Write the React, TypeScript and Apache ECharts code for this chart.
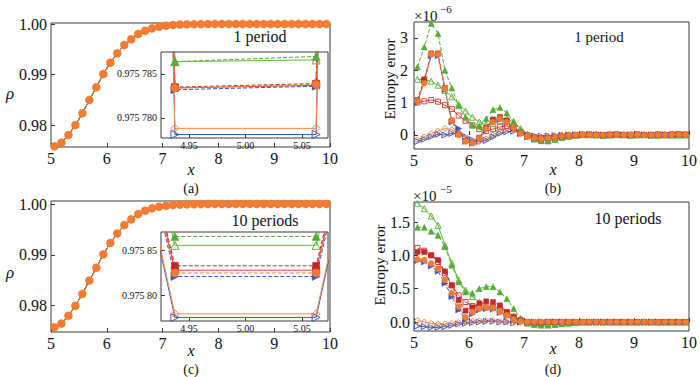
import React, { useEffect, useRef } from 'react';
import * as echarts from 'echarts';

const FONT = 'Liberation Serif, DejaVu Serif, serif';

// grid positions along x
const xs = [5.0625, 5.1875, 5.3125, 5.4375, 5.5625, 5.6875, 5.8125, 5.9375, 6.0625, 6.1875,
  6.3125, 6.4375, 6.5625, 6.6875, 6.8125, 6.9375, 7.0625, 7.1875, 7.3125, 7.4375,
  7.5625, 7.6875, 7.8125, 7.9375, 8.0625, 8.1875, 8.3125, 8.4375, 8.5625, 8.6875,
  8.8125, 8.9375, 9.0625, 9.1875, 9.3125, 9.4375, 9.5625, 9.6875, 9.8125, 9.9375];

// density profile (panels a, c)
const rho = [0.97578, 0.97650, 0.97802, 0.98000, 0.98232, 0.98495, 0.98747, 0.99010, 0.99234, 0.99419,
  0.99584, 0.99697, 0.99802, 0.99868, 0.99914, 0.99947, 0.99967, 0.99980, 0.99988, 0.99993,
  0.99996, 0.99998, 0.99999, 1.0, 1.0, 1.0, 1.0, 1.0, 1.0, 1.0,
  1.0, 1.0, 1.0, 1.0, 1.0, 1.0, 1.0, 1.0, 1.0, 1.0];

// inset x positions
const insetXs = [4.8125, 4.9375, 5.0625, 5.1875];

// inset (a), 1 period
const insetA: Record<string, number[]> = {
  BO: [0.97650, 0.9757781, 0.9757781, 0.97650],
  OO: [0.97650, 0.9757788, 0.9757788, 0.97650],
  RO: [0.97650, 0.9757834, 0.9757837, 0.97650],
  GO: [0.97650, 0.9757864, 0.9757866, 0.97650],
  BF: [0.97650, 0.9757832, 0.9757836, 0.97650],
  GF: [0.97650, 0.9757864, 0.9757870, 0.97650],
  RF: [0.97650, 0.9757835, 0.9757839, 0.97650],
  OF: [0.97650, 0.9757834, 0.9757838, 0.97650],
};

// inset (c), 10 periods
const insetC: Record<string, number[]> = {
  BO: [0.97650, 0.975775, 0.975775, 0.97650],
  OO: [0.97650, 0.975779, 0.975779, 0.97650],
  RO: [0.97650, 0.975828, 0.975828, 0.97650],
  GO: [0.97650, 0.975856, 0.975856, 0.97650],
  BF: [0.97650, 0.975821, 0.975821, 0.97650],
  GF: [0.97650, 0.975866, 0.975866, 0.97650],
  RF: [0.97650, 0.975833, 0.975833, 0.97650],
  OF: [0.97650, 0.975825, 0.975825, 0.97650],
};

// entropy error, 1 period (x 1e-6)
const err1: Record<string, number[]> = {
  GF: [2.10, 2.72, 3.45, 3.13, 2.00, 1.45, 0.90, 0.55, 0.30, 0.28, 0.50, 0.78, 0.85, 0.68, 0.42, 0.15, 0.00, -0.13, -0.18, -0.18,
    -0.12, -0.07, -0.03, 0.00, 0.02, 0.01, 0.02, -0.01, 0.00, 0.02, 0.01, -0.01, 0.02, 0.01, -0.01, 0.01, 0.02, -0.01, 0.00, 0.01],
  GO: [1.72, 1.71, 1.66, 1.54, 1.38, 1.18, 0.95, 0.74, 0.55, 0.40, 0.32, 0.36, 0.44, 0.50, 0.40, 0.20, 0.03, -0.10, -0.16, -0.18,
    -0.14, -0.08, -0.04, -0.01, 0.01, 0.01, 0.00, -0.01, 0.00, 0.01, 0.01, 0.00, 0.00, 0.01, 0.00, -0.01, 0.00, 0.01, 0.00, 0.00],
  RF: [1.08, 1.72, 2.52, 2.52, 1.45, 0.45, 0.02, -0.18, -0.25, -0.08, 0.22, 0.48, 0.56, 0.45, 0.22, 0.06, -0.05, -0.10, -0.12, -0.10,
    -0.07, -0.04, -0.02, 0.00, 0.01, 0.02, 0.01, 0.00, 0.01, 0.02, 0.00, 0.01, 0.02, 0.00, 0.01, 0.02, 0.00, 0.02, 0.03, 0.02],
  OF: [1.05, 1.60, 2.50, 2.50, 1.43, 0.45, 0.00, -0.20, -0.25, -0.10, 0.18, 0.40, 0.50, 0.40, 0.22, 0.05, -0.05, -0.10, -0.12, -0.10,
    -0.07, -0.04, -0.02, 0.00, 0.01, 0.01, 0.00, 0.00, 0.01, 0.01, 0.00, 0.01, 0.01, 0.00, 0.00, 0.01, 0.00, 0.01, 0.01, 0.01],
  BF: [1.00, 1.68, 2.45, 2.45, 1.40, 0.40, 0.20, -0.20, -0.26, -0.12, 0.15, 0.45, 0.48, 0.38, 0.20, 0.04, -0.06, -0.10, -0.12, -0.10,
    -0.07, -0.04, -0.02, 0.00, 0.00, 0.01, 0.00, -0.01, 0.00, 0.01, 0.00, 0.00, 0.01, 0.00, -0.01, 0.00, 0.01, 0.00, 0.00, 0.00],
  RO: [1.00, 1.04, 1.08, 1.03, 0.92, 0.80, 0.60, 0.44, 0.30, 0.18, 0.12, 0.18, 0.25, 0.28, 0.22, 0.10, 0.00, -0.07, -0.10, -0.10,
    -0.08, -0.05, -0.02, 0.00, 0.01, 0.01, 0.00, 0.00, 0.01, 0.01, 0.00, 0.00, 0.01, 0.00, 0.00, 0.01, 0.00, 0.01, 0.01, 0.00],
  OO: [-0.15, -0.06, 0.04, 0.12, 0.20, 0.16, 0.05, -0.08, -0.18, -0.20, -0.12, 0.00, 0.12, 0.20, 0.15, 0.05, -0.02, -0.05, -0.06, -0.04,
    -0.02, 0.00, 0.01, 0.01, 0.00, 0.00, 0.01, 0.00, 0.00, 0.01, 0.00, 0.00, 0.01, 0.00, 0.00, 0.01, 0.00, 0.00, 0.01, 0.00],
  BO: [-0.20, -0.13, -0.05, 0.02, 0.00, 0.05, 0.03, -0.05, -0.15, -0.20, -0.17, -0.06, 0.05, 0.10, 0.12, 0.06, 0.00, -0.03, -0.04, -0.03,
    -0.02, -0.01, 0.00, 0.00, 0.00, 0.00, 0.00, 0.00, 0.00, 0.00, 0.00, 0.00, 0.00, 0.00, 0.00, 0.00, 0.00, 0.00, 0.00, 0.00],
};

// entropy error, 10 periods (x 1e-5)
const err10: Record<string, number[]> = {
  GO: [1.78, 1.70, 1.59, 1.45, 1.15, 0.88, 0.63, 0.48, 0.38, 0.30, 0.25, 0.22, 0.20, 0.15, 0.09, 0.03, 0.00, -0.02, -0.03, -0.03,
    -0.03, -0.02, -0.01, 0.00, 0.00, 0.00, 0.00, 0.00, 0.00, 0.00, 0.00, 0.00, 0.00, 0.00, 0.00, 0.00, 0.00, 0.00, 0.00, 0.00],
  GF: [1.42, 1.42, 1.36, 1.30, 1.13, 0.85, 0.60, 0.45, 0.43, 0.50, 0.53, 0.53, 0.45, 0.35, 0.20, 0.06, -0.02, -0.04, -0.05, -0.05,
    -0.04, -0.03, -0.02, -0.01, 0.00, 0.00, 0.00, 0.00, 0.00, 0.00, 0.00, 0.00, 0.00, 0.00, 0.00, 0.00, 0.00, 0.00, 0.00, 0.00],
  RF: [1.05, 1.05, 1.00, 0.93, 0.76, 0.55, 0.33, 0.17, 0.22, 0.28, 0.31, 0.30, 0.25, 0.15, 0.07, 0.02, 0.00, -0.01, -0.01, 0.00,
    0.00, 0.00, 0.00, 0.00, 0.00, 0.00, 0.00, 0.00, 0.00, 0.00, 0.00, 0.00, 0.00, 0.00, 0.00, 0.00, 0.00, 0.00, 0.00, 0.00],
  RO: [1.11, 1.07, 1.00, 0.90, 0.73, 0.55, 0.40, 0.30, 0.24, 0.22, 0.22, 0.22, 0.20, 0.15, 0.08, 0.03, 0.00, -0.01, -0.01, 0.00,
    0.00, 0.00, 0.00, 0.00, 0.00, 0.00, 0.00, 0.00, 0.00, 0.00, 0.00, 0.00, 0.00, 0.00, 0.00, 0.00, 0.00, 0.00, 0.00, 0.00],
  OF: [0.94, 0.93, 0.88, 0.80, 0.63, 0.43, 0.23, 0.07, 0.15, 0.20, 0.22, 0.21, 0.15, 0.10, 0.04, 0.01, 0.00, 0.00, 0.00, 0.00,
    0.00, 0.00, 0.00, 0.00, 0.00, 0.00, 0.00, 0.00, 0.00, 0.00, 0.00, 0.00, 0.00, 0.00, 0.00, 0.00, 0.00, 0.00, 0.00, 0.00],
  BF: [0.92, 0.90, 0.84, 0.76, 0.58, 0.38, 0.18, 0.04, 0.12, 0.18, 0.20, 0.19, 0.14, 0.09, 0.03, 0.00, 0.00, 0.00, 0.00, 0.00,
    0.00, 0.00, 0.00, 0.00, 0.00, 0.00, 0.00, 0.00, 0.00, 0.00, 0.00, 0.00, 0.00, 0.00, 0.00, 0.00, 0.00, 0.00, 0.00, 0.00],
  OO: [0.02, 0.00, -0.02, -0.03, -0.03, -0.02, -0.01, 0.00, 0.01, 0.02, 0.02, 0.02, 0.01, 0.00, -0.01, -0.01, 0.00, 0.00, 0.00, 0.00,
    0.00, 0.00, 0.00, 0.00, 0.00, 0.00, 0.00, 0.00, 0.00, 0.00, 0.00, 0.00, 0.00, 0.00, 0.00, 0.00, 0.00, 0.00, 0.00, 0.00],
  BO: [-0.06, -0.07, -0.08, -0.08, -0.07, -0.05, -0.03, -0.02, -0.01, 0.00, 0.01, 0.01, 0.00, 0.00, -0.01, 0.00, 0.00, 0.00, 0.00, 0.00,
    0.00, 0.00, 0.00, 0.00, 0.00, 0.00, 0.00, 0.00, 0.00, 0.00, 0.00, 0.00, 0.00, 0.00, 0.00, 0.00, 0.00, 0.00, 0.00, 0.00],
};

// tick values and labels
const xTicks = [5, 6, 7, 8, 9, 10];
const xTickLabels = ['5', '6', '7', '8', '9', '10'];
const rhoTicks = [0.98, 0.99, 1.0];
const rhoTickLabels = ['0.98', '0.99', '1.00'];
const err1Ticks = [0, 1, 2, 3];
const err1TickLabels = ['0', '1', '2', '3'];
const err10Ticks = [0, 0.5, 1.0, 1.5];
const err10TickLabels = ['0.0', '0.5', '1.0', '1.5'];
const insetXTicks = [4.95, 5.0, 5.05];
const insetXTickLabels = ['4.95', '5.00', '5.05'];
const insetATicks = [0.97578, 0.975785];
const insetATickLabels = ['0.975 780', '0.975 785'];
const insetCTicks = [0.9758, 0.97585];
const insetCTickLabels = ['0.975 80', '0.975 85'];

// series styles (draw order: first = bottom)
const STYLES = [
  { key: 'BO', color: '#3d56b6', symbol: 'triangle', rotate: -90, filled: false, dashed: false },
  { key: 'OO', color: '#f4874c', symbol: 'diamond', rotate: 0, filled: false, dashed: false },
  { key: 'RO', color: '#d7443e', symbol: 'rect', rotate: 0, filled: false, dashed: false },
  { key: 'GO', color: '#62b840', symbol: 'triangle', rotate: 0, filled: false, dashed: false },
  { key: 'BF', color: '#3d56b6', symbol: 'triangle', rotate: -90, filled: true, dashed: true },
  { key: 'GF', color: '#52ad32', symbol: 'triangle', rotate: 0, filled: true, dashed: true },
  { key: 'RF', color: '#c1272d', symbol: 'rect', rotate: 0, filled: true, dashed: true },
  { key: 'OF', color: '#f47b2f', symbol: 'circle', rotate: 0, filled: true, dashed: true },
];

function makeAxis(gridIndex: number, min: number, max: number, ticks: number[], labels: string[],
  fontSize: number, margin: number, z: number) {
  const tol = (max - min) * 1e-4;
  const fmt = (v: number) => {
    const i = ticks.findIndex((t) => Math.abs(t - v) < tol);
    return i >= 0 ? labels[i] : '';
  };
  return {
    type: 'value', gridIndex, min, max, z,
    axisLine: { show: false },
    splitLine: { show: false },
    axisTick: { show: true, inside: true, length: 4, lineStyle: { color: '#333', width: 1 }, customValues: ticks },
    axisLabel: { show: true, customValues: ticks, formatter: fmt, fontSize, fontFamily: FONT, color: '#111', margin },
  };
}

// sizes: [others, rect, circle]
function makeSeries(idx: number, xVals: number[], source: Record<string, number[]>, sizes: number[], z: number) {
  return STYLES.map((s) => ({
    type: 'line',
    xAxisIndex: idx, yAxisIndex: idx,
    data: xVals.map((x, i) => [x, source[s.key][i]]),
    symbol: s.symbol,
    symbolSize: s.symbol === 'rect' ? sizes[1] : s.symbol === 'circle' ? sizes[2] : sizes[0],
    symbolRotate: s.rotate,
    showAllSymbol: true,
    clip: true,
    z,
    itemStyle: s.filled
      ? { color: s.color, borderColor: s.color, borderWidth: 0.5 }
      : { color: 'rgba(255,255,255,0)', borderColor: s.color, borderWidth: 1 },
    lineStyle: { color: s.color, width: 1, type: s.dashed ? [4, 2] : 'solid' },
    emphasis: { disabled: true },
  }));
}

const rhoSource: Record<string, number[]> = Object.fromEntries(STYLES.map((s) => [s.key, rho]));

function txt(text: string, x: number, y: number, size: number, extra: any = {}) {
  return {
    type: 'text', x, y, rotation: extra.rotation || 0, z: 20,
    style: {
      text, fill: '#111', fontSize: size, fontFamily: FONT, fontStyle: extra.italic ? 'italic' : 'normal',
      textAlign: extra.align || 'center', align: extra.align || 'center',
      textVerticalAlign: 'middle', verticalAlign: 'middle',
    },
  };
}

export default function App() {
  const ref = useRef<HTMLDivElement>(null);
  useEffect(() => {
    const chart = echarts.init(ref.current!, null, { renderer: 'svg' });
    const gridBase = { show: true, borderColor: '#3a3a3a', borderWidth: 1, backgroundColor: '#fff' };
    const option: any = {
      animation: false,
      textStyle: { fontFamily: FONT },
      grid: [
        { ...gridBase, left: 51, top: 23, width: 279, height: 124 },
        { ...gridBase, left: 414, top: 22, width: 279, height: 127 },
        { ...gridBase, left: 51, top: 201, width: 279, height: 131 },
        { ...gridBase, left: 414, top: 202, width: 279, height: 129 },
        { ...gridBase, left: 161, top: 52, width: 167, height: 86, z: 5 },
        { ...gridBase, left: 161, top: 232, width: 167, height: 89, z: 5 },
      ],
      xAxis: [
        makeAxis(0, 5, 10, xTicks, xTickLabels, 16, 3, 1),
        makeAxis(1, 5, 10, xTicks, xTickLabels, 16, 3, 1),
        makeAxis(2, 5, 10, xTicks, xTickLabels, 16, 3, 1),
        makeAxis(3, 5, 10, xTicks, xTickLabels, 16, 3, 1),
        makeAxis(4, 4.9252, 5.073, insetXTicks, insetXTickLabels, 10, 2, 6),
        makeAxis(5, 4.9252, 5.073, insetXTicks, insetXTickLabels, 10, 2, 6),
      ],
      yAxis: [
        makeAxis(0, 0.97565, 1.0002, rhoTicks, rhoTickLabels, 16, 4, 1),
        makeAxis(1, -0.433, 3.49, err1Ticks, err1TickLabels, 16, 6, 1),
        makeAxis(2, 0.97483, 1.00059, rhoTicks, rhoTickLabels, 16, 4, 1),
        makeAxis(3, -0.135, 1.8, err10Ticks, err10TickLabels, 16, 4, 1),
        makeAxis(4, 0.9757777, 0.9757875, insetATicks, insetATickLabels, 10, 4, 6),
        makeAxis(5, 0.975771, 0.975871, insetCTicks, insetCTickLabels, 10, 4, 6),
      ],
      series: [
        ...makeSeries(0, xs, rhoSource, [5, 5, 8], 2),
        ...makeSeries(1, xs, err1, [6, 5, 6], 2),
        ...makeSeries(2, xs, rhoSource, [5, 5, 8], 2),
        ...makeSeries(3, xs, err10, [6, 5, 6], 2),
        ...makeSeries(4, insetXs, insetA, [8, 7, 8], 7),
        ...makeSeries(5, insetXs, insetC, [8, 7, 8], 7),
      ],
      graphic: [
        txt('ρ', 10, 93, 17, { italic: true }),
        txt('ρ', 10, 272, 17, { italic: true }),
        txt('x', 191, 169, 16, { italic: true }),
        txt('x', 553, 169, 16, { italic: true }),
        txt('x', 191, 350, 16, { italic: true }),
        txt('x', 553, 348, 16, { italic: true }),
        txt('(a)', 191, 188, 14),
        txt('(b)', 553, 188, 14),
        txt('(c)', 191, 369, 14),
        txt('(d)', 553, 369, 14),
        txt('1 period', 260, 36, 16),
        txt('1 period', 599, 37, 15),
        txt('10 periods', 265, 220, 16),
        txt('10 periods', 628, 218, 16),
        txt('Entropy error', 390, 79, 15, { rotation: Math.PI / 2 }),
        txt('Entropy error', 380, 265, 15, { rotation: Math.PI / 2 }),
        txt('×10', 414, 16, 15, { align: 'left' }),
        txt('−6', 440, 9, 11, { align: 'left' }),
        txt('×10', 413, 196, 15, { align: 'left' }),
        txt('−5', 440, 189, 11, { align: 'left' }),
      ],
    };
    chart.setOption(option);
    return () => chart.dispose();
  }, []);
  return <div ref={ref} style={{ position: 'fixed', left: 0, top: 0, width: 700, height: 377, background: '#fff' }} />;
}
